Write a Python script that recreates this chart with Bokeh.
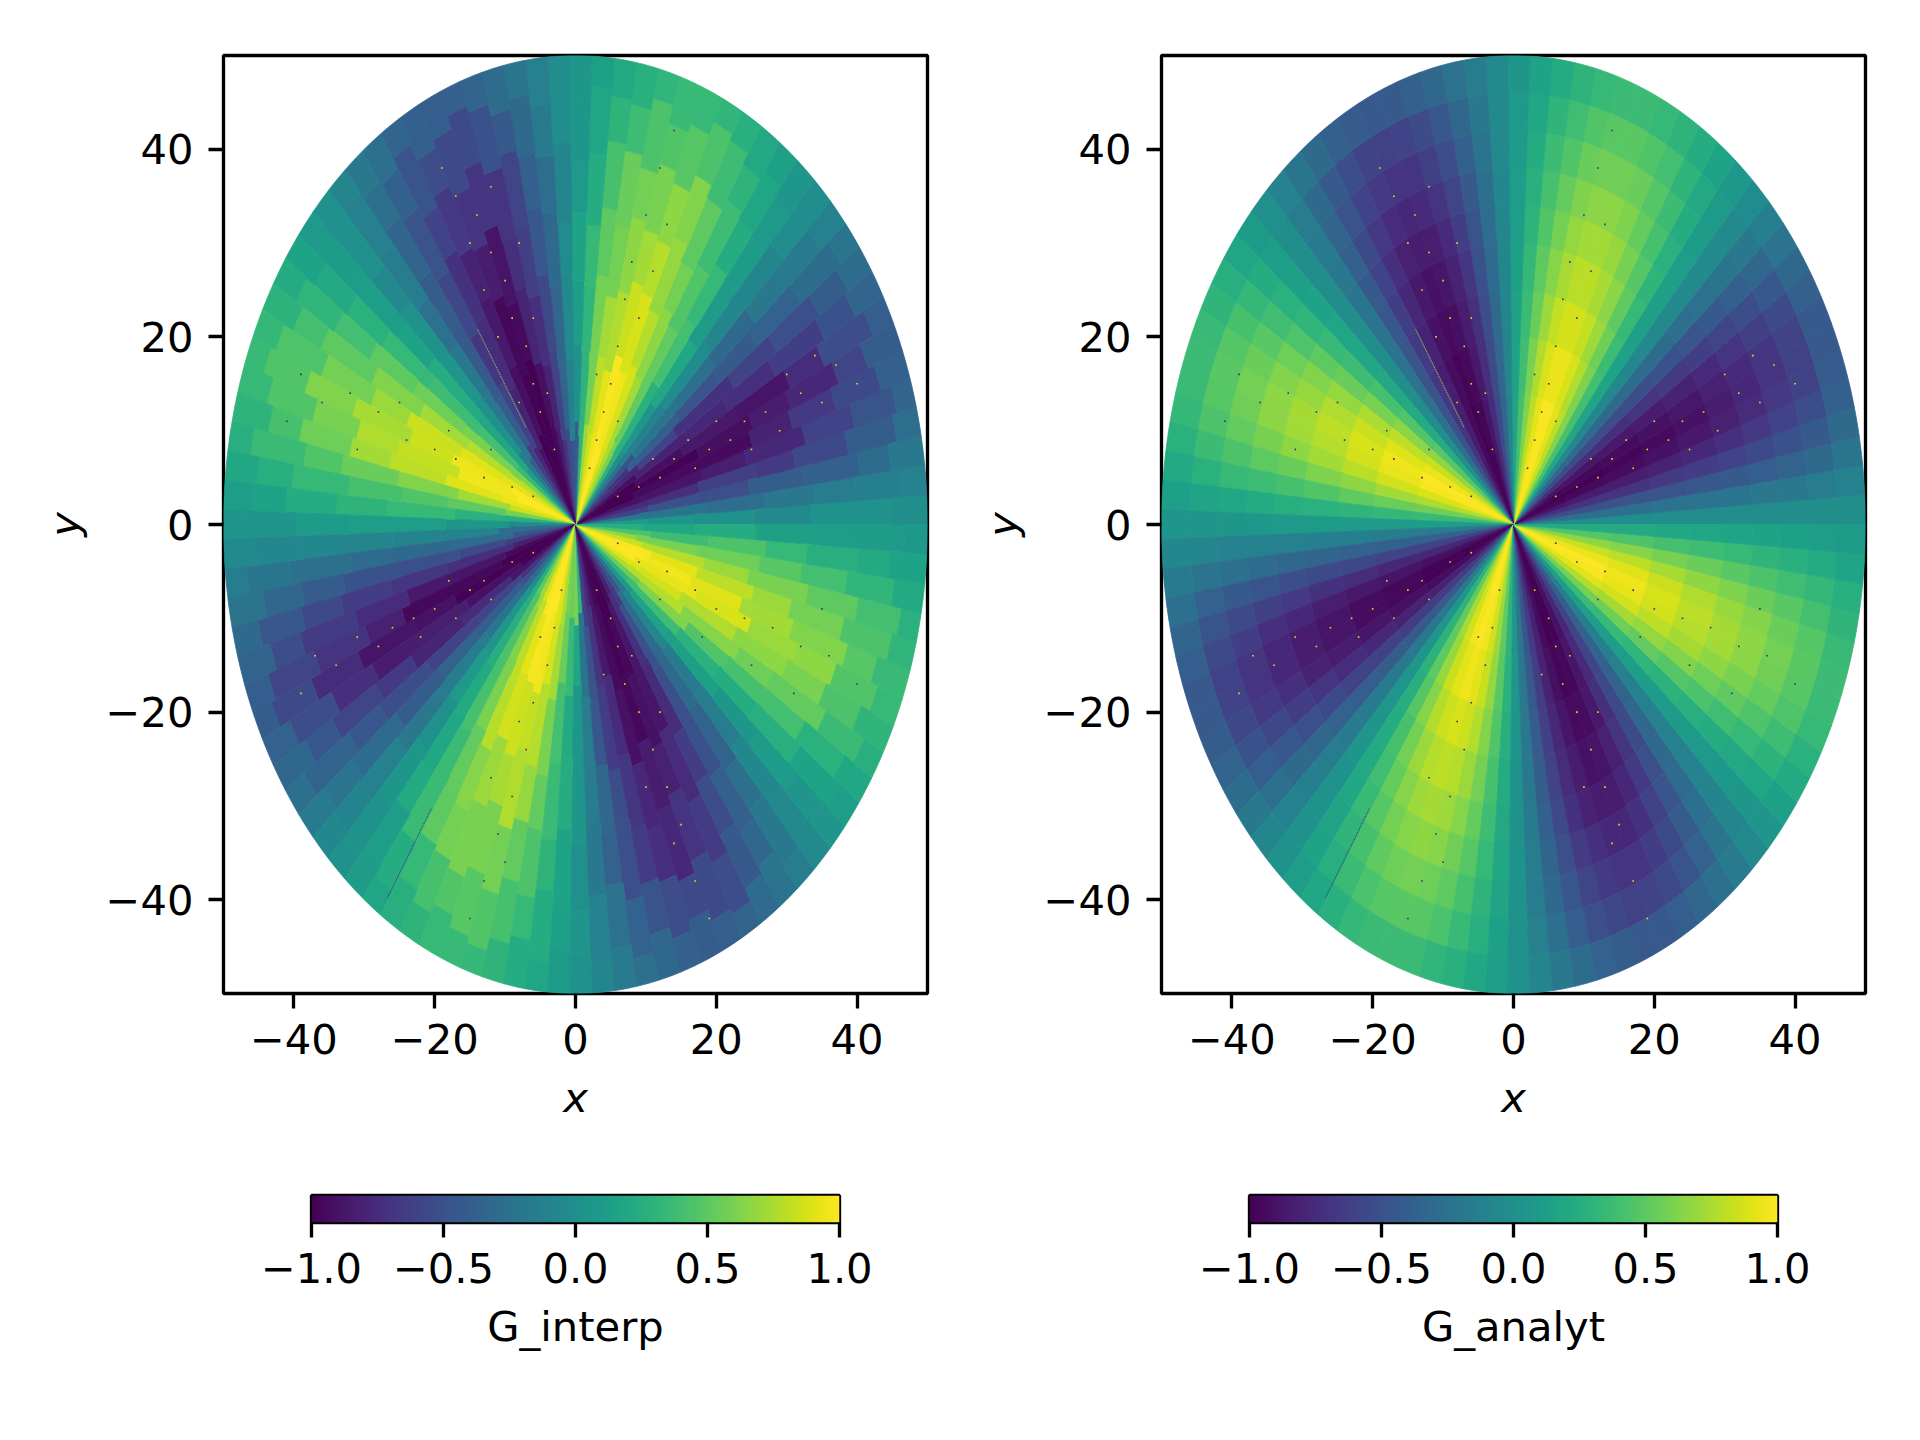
import numpy as np
from bokeh.embed import file_html
from bokeh.layouts import column, row
from bokeh.models import ColumnDataSource, FixedTicker, LinearColorMapper, Range1d
from bokeh.palettes import Viridis256
from bokeh.plotting import figure
from bokeh.resources import INLINE
from bokeh.transform import linear_cmap

# Values are hundredths of G, one list per ring, 99 angular sectors starting at 0 deg
num_sectors = 99
analyt_ring_edges = [0, 8, 14, 20, 25, 30, 34, 38, 42, 46, 50]
interp_ring_edges = [0, 10, 18, 26, 33, 40, 46, 50]

analyt_ring0 = [
    -2, -27, -51, -71, -86, -96, -100, -97, -89, -74,
    -55, -32, -7, 18, 42, 64, 81, 93, 99, 99,
    93, 80, 63, 41, 17, -9, -33, -56, -75, -89,
    -98, -100, -96, -86, -70, -50, -26, -1, 24, 48,
    68, 85, 95, 100, 98, 90, 76, 58, 35, 11,
    -15, -39, -61, -79, -92, -99, -99, -94, -82, -65,
    -44, -20, 5, 30, 53, 73, 88, 97, 100, 97,
    87, 72, 52, 29, 4, -21, -45, -66, -83, -94,
    -100, -99, -91, -78, -60, -38, -14, 12, 36, 59,
    77, 91, 98, 100, 95, 84, 67, 47, 23]
analyt_ring1 = [
    -2, -27, -50, -70, -85, -95, -99, -96, -88, -73,
    -54, -32, -7, 18, 42, 63, 80, 92, 98, 98,
    92, 79, 62, 41, 17, -9, -33, -55, -74, -88,
    -97, -99, -95, -85, -69, -50, -26, -1, 24, 48,
    67, 84, 94, 99, 97, 89, 75, 57, 35, 11,
    -15, -39, -60, -78, -91, -98, -98, -93, -81, -64,
    -44, -20, 5, 30, 52, 72, 87, 96, 99, 96,
    86, 71, 51, 29, 4, -21, -45, -65, -82, -93,
    -99, -98, -90, -77, -59, -38, -14, 12, 36, 58,
    76, 90, 97, 99, 94, 83, 66, 47, 23]
analyt_ring2 = [
    -2, -26, -49, -69, -83, -93, -97, -94, -86, -72,
    -53, -31, -7, 17, 40, 61, 77, 88, 94, 94,
    88, 76, 60, 39, 16, -9, -32, -54, -73, -86,
    -95, -97, -93, -83, -68, -49, -25, -1, 23, 46,
    65, 81, 90, 95, 93, 86, 72, 55, 33, 10,
    -15, -38, -59, -77, -89, -96, -96, -91, -80, -63,
    -43, -19, 5, 29, 50, 69, 84, 92, 95, 92,
    83, 68, 49, 28, 4, -20, -44, -64, -81, -91,
    -97, -96, -88, -76, -58, -37, -14, 11, 34, 56,
    73, 86, 93, 95, 90, 80, 64, 45, 22]
analyt_ring3 = [
    -2, -25, -48, -67, -81, -90, -94, -91, -84, -70,
    -52, -30, -7, 16, 37, 56, 71, 82, 87, 87,
    82, 70, 55, 36, 15, -8, -31, -53, -71, -84,
    -92, -94, -90, -81, -66, -47, -24, -1, 21, 42,
    60, 75, 84, 88, 86, 79, 67, 51, 31, 10,
    -14, -37, -57, -74, -86, -93, -93, -88, -77, -61,
    -41, -19, 4, 26, 47, 64, 77, 85, 88, 85,
    77, 63, 46, 26, 4, -20, -42, -62, -78, -88,
    -94, -93, -86, -73, -56, -36, -13, 11, 32, 52,
    68, 80, 86, 88, 84, 74, 59, 41, 20]
analyt_ring4 = [
    -2, -24, -46, -64, -77, -86, -90, -87, -80, -67,
    -50, -29, -6, 14, 34, 51, 65, 74, 79, 79,
    74, 64, 50, 33, 14, -8, -30, -50, -68, -80,
    -88, -90, -86, -77, -63, -45, -23, -1, 19, 38,
    54, 68, 76, 80, 78, 72, 61, 46, 28, 9,
    -14, -35, -55, -71, -83, -89, -89, -85, -74, -59,
    -40, -18, 4, 24, 42, 58, 70, 78, 80, 78,
    70, 58, 42, 23, 3, -19, -41, -59, -75, -85,
    -90, -89, -82, -70, -54, -34, -13, 10, 29, 47,
    62, 73, 78, 80, 76, 67, 54, 38, 18]
analyt_ring5 = [
    -2, -23, -43, -60, -73, -82, -85, -82, -76, -63,
    -47, -27, -6, 13, 31, 47, 59, 68, 72, 72,
    68, 58, 46, 30, 12, -8, -28, -48, -64, -76,
    -83, -85, -82, -73, -60, -43, -22, -1, 18, 35,
    50, 62, 69, 73, 72, 66, 55, 42, 26, 8,
    -13, -33, -52, -67, -78, -84, -84, -80, -70, -55,
    -37, -17, 4, 22, 39, 53, 64, 71, 73, 71,
    64, 53, 38, 21, 3, -18, -38, -56, -71, -80,
    -85, -84, -77, -66, -51, -32, -12, 9, 26, 43,
    56, 66, 72, 73, 69, 61, 49, 34, 17]
analyt_ring6 = [
    -2, -21, -40, -55, -67, -75, -78, -76, -69, -58,
    -43, -25, -5, 12, 28, 42, 53, 61, 65, 65,
    61, 53, 42, 27, 11, -7, -26, -44, -58, -69,
    -76, -78, -75, -67, -55, -39, -20, -1, 16, 32,
    45, 56, 63, 66, 65, 59, 50, 38, 23, 7,
    -12, -30, -48, -62, -72, -77, -77, -73, -64, -51,
    -34, -16, 3, 20, 35, 48, 58, 64, 66, 64,
    57, 48, 34, 19, 3, -16, -35, -51, -65, -73,
    -78, -77, -71, -61, -47, -30, -11, 8, 24, 39,
    51, 60, 65, 66, 63, 55, 44, 31, 15]
analyt_ring7 = [
    -1, -19, -36, -50, -60, -67, -70, -68, -62, -52,
    -39, -22, -5, 10, 24, 37, 47, 54, 57, 57,
    54, 46, 37, 24, 10, -6, -23, -39, -53, -62,
    -69, -70, -67, -60, -49, -35, -18, -1, 14, 28,
    39, 49, 55, 58, 57, 52, 44, 34, 20, 6,
    -11, -27, -43, -55, -64, -69, -69, -66, -57, -46,
    -31, -14, 3, 17, 31, 42, 51, 56, 58, 56,
    50, 42, 30, 17, 2, -15, -32, -46, -58, -66,
    -70, -69, -64, -55, -42, -27, -10, 7, 21, 34,
    45, 53, 57, 58, 55, 49, 39, 27, 13]
analyt_ring8 = [
    -1, -16, -31, -43, -52, -59, -61, -59, -54, -45,
    -34, -20, -4, 9, 21, 31, 40, 46, 49, 49,
    46, 39, 31, 20, 8, -5, -20, -34, -46, -54,
    -60, -61, -59, -52, -43, -31, -16, -1, 12, 24,
    33, 42, 47, 49, 48, 44, 37, 28, 17, 5,
    -9, -24, -37, -48, -56, -60, -60, -57, -50, -40,
    -27, -12, 2, 15, 26, 36, 43, 48, 49, 48,
    43, 35, 25, 14, 2, -13, -27, -40, -51, -57,
    -61, -60, -56, -48, -37, -23, -9, 6, 18, 29,
    38, 45, 48, 49, 47, 41, 33, 23, 11]
analyt_ring9 = [
    -1, -12, -22, -31, -38, -42, -44, -43, -39, -33,
    -24, -14, -3, 7, 16, 24, 30, 34, 37, 37,
    34, 30, 23, 15, 6, -4, -15, -25, -33, -39,
    -43, -44, -42, -38, -31, -22, -11, 0, 9, 18,
    25, 31, 35, 37, 36, 33, 28, 21, 13, 4,
    -7, -17, -27, -35, -40, -44, -44, -41, -36, -29,
    -19, -9, 2, 11, 20, 27, 33, 36, 37, 36,
    32, 27, 19, 11, 1, -9, -20, -29, -37, -41,
    -44, -44, -40, -34, -26, -17, -6, 4, 13, 22,
    28, 34, 36, 37, 35, 31, 25, 17, 9]

interp_ring0 = [
    10, -20, -60, -75, -90, -100, -100, -100, -92, -78,
    -70, -50, -25, 0, 30, 60, 75, 88, 100, 100,
    95, 85, 70, 30, -40, -50, -55, -70, -85, -95,
    -100, -100, -100, -90, -78, -62, -40, -15, 10, 35,
    62, 80, 92, 100, 100, 94, 85, 60, 25, -5,
    -28, -45, -62, -82, -95, -100, -100, -98, -88, -70,
    -50, -30, -5, 25, 50, 70, 88, 98, 100, 100,
    90, 75, 60, 55, 60, 30, -60, -75, -88, -97,
    -100, -100, -95, -82, -65, -45, -22, 8, 32, 55,
    75, 90, 98, 100, 98, 85, 68, 45, 25]
interp_ring1 = [
    6, -22, -50, -72, -88, -94, -98, -92, -80, -60,
    -40, -22, -12, 5, 28, 52, 72, 88, 96, 98,
    92, 80, 58, 30, 2, -12, -35, -58, -80, -92,
    -99, -98, -92, -80, -60, -42, -20, 2, 20, 40,
    60, 78, 90, 95, 96, 90, 72, 50, 28, 6,
    -10, -30, -55, -72, -88, -96, -98, -90, -75, -58,
    -40, -22, 4, 25, 44, 62, 80, 92, 97, 96,
    88, 72, 55, 35, 18, -22, -48, -70, -86, -94,
    -98, -96, -88, -72, -50, -28, -8, 15, 38, 62,
    78, 86, 93, 96, 92, 78, 60, 38, 20]
interp_ring2 = [
    2, -28, -51, -62, -83, -94, -92, -86, -77, -71,
    -47, -27, -3, 20, 40, 52, 66, 78, 88, 84,
    76, 72, 58, 32, 12, -4, -34, -56, -73, -79,
    -94, -96, -86, -75, -68, -43, -19, 4, 24, 38,
    56, 72, 84, 85, 82, 80, 62, 46, 34, 12,
    -10, -32, -51, -68, -86, -96, -90, -83, -79, -59,
    -36, -15, 8, 22, 42, 60, 78, 86, 85, 82,
    78, 60, 40, 22, 6, -15, -45, -64, -75, -90,
    -96, -90, -88, -75, -51, -32, -17, 14, 28, 46,
    64, 76, 88, 90, 80, 70, 56, 44, 24]
interp_ring3 = [
    -5, -21, -41, -66, -78, -80, -84, -89, -73, -59,
    -43, -32, -9, 10, 34, 46, 58, 68, 78, 72,
    66, 58, 50, 34, 16, -3, -32, -46, -62, -73,
    -89, -84, -80, -71, -57, -41, -25, 2, 16, 34,
    50, 62, 70, 74, 76, 72, 54, 42, 30, 12,
    -9, -30, -50, -64, -75, -82, -89, -84, -66, -52,
    -41, -21, 0, 20, 36, 52, 64, 70, 74, 76,
    68, 52, 36, 24, 6, -16, -34, -52, -68, -78,
    -84, -82, -75, -64, -50, -36, -16, 6, 24, 42,
    56, 66, 70, 72, 70, 60, 48, 34, 14]
interp_ring4 = [
    2, -16, -39, -56, -60, -67, -77, -74, -63, -51,
    -37, -21, -8, 10, 24, 38, 50, 62, 66, 60,
    58, 54, 42, 24, 8, -9, -28, -39, -58, -70,
    -70, -70, -67, -60, -49, -35, -16, -5, 12, 28,
    40, 50, 58, 62, 60, 56, 46, 34, 24, 10,
    -7, -26, -42, -56, -65, -70, -74, -72, -58, -46,
    -30, -12, 6, 22, 36, 50, 58, 60, 60, 58,
    52, 44, 30, 16, 0, -19, -37, -51, -65, -72,
    -77, -70, -65, -53, -39, -26, -7, 10, 26, 40,
    52, 60, 66, 62, 58, 50, 40, 26, 12]
interp_ring5 = [
    1, -14, -29, -41, -48, -55, -58, -53, -50, -41,
    -29, -17, -2, 8, 18, 30, 38, 44, 48, 46,
    44, 38, 30, 18, 6, -2, -17, -31, -43, -50,
    -55, -56, -53, -48, -38, -26, -13, 1, 10, 22,
    32, 40, 45, 46, 46, 42, 36, 26, 16, 4,
    -7, -22, -34, -46, -53, -58, -56, -53, -46, -36,
    -24, -10, 2, 12, 24, 34, 42, 46, 48, 46,
    42, 34, 24, 13, 4, -11, -25, -37, -48, -53,
    -56, -55, -53, -43, -34, -20, -6, 4, 16, 28,
    36, 44, 46, 48, 44, 40, 32, 22, 10]
interp_ring6 = [
    -1, -11, -20, -28, -35, -39, -41, -40, -35, -29,
    -22, -12, -2, 5, 14, 21, 27, 32, 34, 35,
    32, 27, 21, 14, 6, -2, -13, -22, -29, -35,
    -39, -40, -39, -35, -27, -20, -9, 1, 8, 16,
    23, 29, 33, 35, 34, 30, 25, 20, 12, 4,
    -5, -15, -23, -32, -36, -40, -41, -37, -33, -26,
    -18, -7, 2, 10, 18, 25, 30, 34, 35, 33,
    30, 24, 18, 9, 2, -8, -18, -26, -33, -39,
    -41, -40, -36, -30, -23, -15, -5, 4, 12, 20,
    26, 31, 34, 35, 32, 28, 22, 16, 7]

# Stray single points in the dark and bright lobes
bright_speck_x = [6, 9, 12, 14, 17, 19, 22, 24, 27, 29, 32, 35, 37, 40, 11, 16, 20, 25, 30, 34,
                  -3, -5, -6, -7, -9, -10, -12, -14, -8, -4, -6, -11, -13, -15, -17, -19, -8, -12,
                  -6, -9, -13, -15, -18, -20, -23, -26, -28, -31, -34, -37, -39, -12, -17, -22,
                  3, 5, 6, 7, 9, 11, 13, 15, 8, 4, 10, 12, 14, 17, 19]
bright_speck_y = [3, 4, 5, 7, 6, 8, 9, 11, 12, 10, 14, 13, 17, 15, 7, 9, 11, 8, 16, 18,
                  8, 12, 15, 19, 22, 26, 29, 33, 13, 14, 22, 20, 25, 30, 35, 38, 30, 36,
                  -3, -4, -6, -7, -6, -9, -10, -11, -13, -12, -15, -14, -18, -8, -10, -12,
                  -7, -10, -13, -17, -20, -24, -28, -32, -14, -16, -28, -20, -34, -38, -42]
dark_speck_x = [2, 3, 4, 5, 6, 7, 8, 10, 12, 6, 3, 9, 11, 13, 14,
                -6, -9, -13, -17, -20, -24, -28, -32, -36, -39, -12, -18, -25, -31, -41,
                -2, -3, -4, -6, -7, -9, -11, -13, -15, -5, -8, -12, -10,
                6, 9, 13, 17, 20, 24, 28, 32, 36, 40, 12, 18, 25, 31, 35]
dark_speck_y = [6, 9, 12, 15, 19, 24, 28, 33, 38, 11, 16, 22, 27, 32, 42,
                3, 4, 5, 7, 8, 9, 12, 14, 13, 16, 8, 10, 13, 8, 11,
                -7, -11, -15, -19, -24, -29, -33, -38, -42, -12, -21, -27, -36,
                -2, -4, -5, -7, -9, -10, -11, -13, -14, -17, -8, -12, -15, -18, -9]
bright_speck_value = 0.92
dark_speck_value = -0.78

# The two thin streaks that show up in both panels
streak_x0 = [-13.9, -20.5]
streak_y0 = [20.8, -30.3]
streak_x1 = [-7.0, -26.7]
streak_y1 = [10.3, -39.8]
streak_value = [0.72, -0.80]

axis_ticks = [-40, -20, 0, 20, 40]
axis_tick_labels = {-40: "\u221240", -20: "\u221220", 0: "0", 20: "20", 40: "40"}
bar_ticks = [-1, -0.5, 0, 0.5, 1]
bar_tick_labels = {-1: "\u22121.0", -0.5: "\u22120.5", 0: "0.0", 0.5: "0.5", 1: "1.0"}

FONT = "DejaVu Sans"
FONT_SIZE = "41.67px"
LINE_WIDTH = 3.33
TICK_LENGTH = 15

# Breaks up the ring edges of the interpolated panel into blocks
ring_stagger = [0, 0.8, -0.5, 1, -1, 0.3, -0.8, 0.5, 1.2, -0.3, -1.2, 0.8, -0.5]
no_stagger = [0]


def style_axis(axis, label, ticks, overrides, font_style, label_standoff):
    axis.axis_label = label
    axis.axis_label_text_font = FONT
    axis.axis_label_text_font_size = FONT_SIZE
    axis.axis_label_text_font_style = font_style
    axis.axis_label_text_color = "black"
    axis.axis_label_standoff = label_standoff
    axis.axis_line_color = None
    axis.ticker = FixedTicker(ticks=ticks)
    axis.major_label_overrides = overrides
    axis.major_label_text_font = FONT
    axis.major_label_text_font_size = FONT_SIZE
    axis.major_label_text_color = "black"
    axis.major_label_standoff = 15
    axis.major_tick_line_color = "black"
    axis.major_tick_line_width = LINE_WIDTH
    axis.major_tick_out = TICK_LENGTH
    axis.major_tick_in = 0
    axis.minor_tick_line_color = None


def ring_radius(edges, stagger, ring_index, sector_index):
    if ring_index == 0 or ring_index == len(edges) - 1:
        return edges[ring_index]
    return edges[ring_index] + stagger[(sector_index + 5 * ring_index) % len(stagger)]


def sector_source(rings, edges, stagger):
    xs_list = []
    ys_list = []
    values = []
    for ring_index, ring in enumerate(rings):
        for sector_index, hundredths in enumerate(ring):
            inner = ring_radius(edges, stagger, ring_index, sector_index)
            outer = ring_radius(edges, stagger, ring_index + 1, sector_index)
            theta = np.linspace(sector_index, sector_index + 1, 4) * 2 * np.pi / num_sectors
            xs_list.append(np.concatenate([outer * np.cos(theta), inner * np.cos(theta[::-1])]))
            ys_list.append(np.concatenate([outer * np.sin(theta), inner * np.sin(theta[::-1])]))
            values.append(hundredths / 100)
    return ColumnDataSource(data={"xs": xs_list, "ys": ys_list, "value": values})


def make_panel(rings, edges, stagger, width, border_left, border_right):
    p = figure(
        width=width,
        height=1140,
        x_range=Range1d(-50, 50),
        y_range=Range1d(-50, 50),
        min_border_left=border_left,
        min_border_right=border_right,
        min_border_top=55,
        min_border_bottom=147,
        output_backend="svg",
        toolbar_location=None,
    )
    p.grid.visible = False
    p.outline_line_color = "black"
    p.outline_line_width = LINE_WIDTH
    p.outline_line_alpha = 1
    style_axis(p.xaxis[0], "x", axis_ticks, axis_tick_labels, "italic", 16)
    style_axis(p.yaxis[0], "y", axis_ticks, axis_tick_labels, "italic", 14)

    colors = linear_cmap("value", Viridis256, -1, 1)
    p.patches("xs", "ys", source=sector_source(rings, edges, stagger),
              fill_color=colors, line_color=colors, line_width=0.8)

    streaks = ColumnDataSource(data={
        "x0": streak_x0, "y0": streak_y0, "x1": streak_x1, "y1": streak_y1, "value": streak_value,
    })
    p.segment("x0", "y0", "x1", "y1", source=streaks, line_color=colors, line_width=1, line_dash="1 1")

    specks = ColumnDataSource(data={
        "x": bright_speck_x + dark_speck_x,
        "y": bright_speck_y + dark_speck_y,
        "value": [bright_speck_value] * len(bright_speck_x) + [dark_speck_value] * len(dark_speck_x),
    })
    p.scatter("x", "y", source=specks, marker="square", size=1.6, fill_color=colors, line_color=None)
    return p


def make_colorbar(label, width, border_left, border_right):
    p = figure(
        width=width,
        height=290,
        x_range=Range1d(-1, 1),
        y_range=Range1d(0, 1),
        min_border_left=border_left,
        min_border_right=border_right,
        min_border_top=55,
        min_border_bottom=208,
        y_axis_location=None,
        output_backend="svg",
        toolbar_location=None,
    )
    p.grid.visible = False
    p.outline_line_color = "black"
    p.outline_line_width = LINE_WIDTH
    p.outline_line_alpha = 1
    style_axis(p.xaxis[0], label, bar_ticks, bar_tick_labels, "normal", 16)
    mapper = LinearColorMapper(palette=Viridis256, low=-1, high=1)
    gradient = np.linspace(-1, 1, 256).reshape(1, 256)
    p.image(image=[gradient], x=-1, y=0, dw=2, dh=1, color_mapper=mapper)
    return p


interp_rings = [interp_ring0, interp_ring1, interp_ring2, interp_ring3, interp_ring4, interp_ring5, interp_ring6]
analyt_rings = [analyt_ring0, analyt_ring1, analyt_ring2, analyt_ring3, analyt_ring4,
                analyt_ring5, analyt_ring6, analyt_ring7, analyt_ring8, analyt_ring9]

panel_interp = make_panel(interp_rings, interp_ring_edges, ring_stagger, 969, 223, 42)
panel_analyt = make_panel(analyt_rings, analyt_ring_edges, no_stagger, 937, 192, 41)
bar_interp = make_colorbar("G_interp", 969, 311, 130)
bar_analyt = make_colorbar("G_analyt", 937, 280, 129)

layout = column(row(panel_interp, panel_analyt), row(bar_interp, bar_analyt))

open("out.html", "w").write(file_html(layout, INLINE))
